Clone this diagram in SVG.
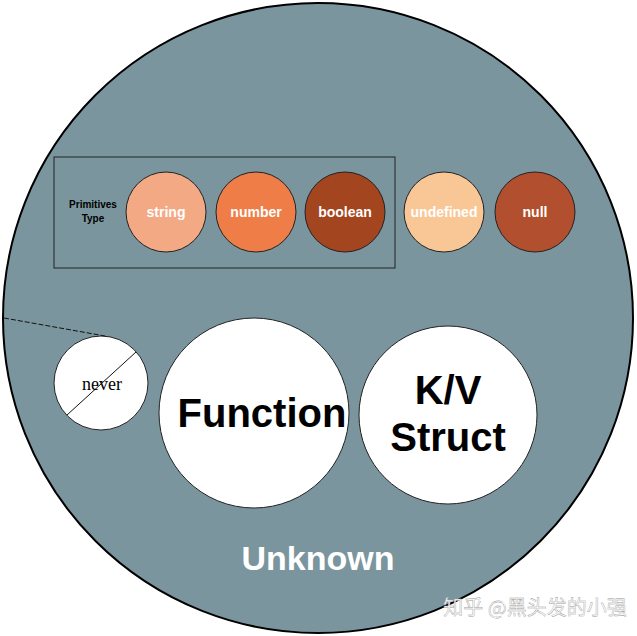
<svg xmlns="http://www.w3.org/2000/svg" width="637" height="636" viewBox="0 0 637 636">
<style>
.p{stroke:#222;stroke-width:1}
.pt{font-family:"Liberation Sans",Arial,sans-serif;font-weight:bold;font-size:14px;fill:#fff;text-anchor:middle}
.w{fill:#fff;stroke:#222;stroke-width:1}
.big{font-family:"Liberation Sans",Arial,sans-serif;font-weight:bold;font-size:40px;fill:#000;text-anchor:middle}
</style>
<rect width="637" height="636" fill="#fff"/>
<g id="unknown">
<circle cx="318" cy="318" r="315" fill="#7b959e" stroke="#000" stroke-width="2"/>
<text x="318" y="570" font-family="Liberation Sans,Arial,sans-serif" font-weight="bold" font-size="34" fill="#fff" text-anchor="middle">Unknown</text>
</g>
<g id="primitives">
<rect x="54" y="157" width="341" height="111" fill="none" stroke="#222"/>
<text x="93" y="208" font-family="Liberation Sans,Arial,sans-serif" font-weight="bold" font-size="10" text-anchor="middle">Primitives</text>
<text x="93" y="222" font-family="Liberation Sans,Arial,sans-serif" font-weight="bold" font-size="10" text-anchor="middle">Type</text>
</g>
<g id="string"><circle class="p" cx="166" cy="212" r="40" fill="#f3a984"/><text class="pt" x="166" y="217">string</text></g>
<g id="number"><circle class="p" cx="256" cy="212" r="40" fill="#ee7d48"/><text class="pt" x="256" y="217">number</text></g>
<g id="boolean"><circle class="p" cx="345" cy="212" r="40" fill="#a3451f"/><text class="pt" x="345" y="217">boolean</text></g>
<g id="undefined"><circle class="p" cx="444" cy="212" r="40" fill="#f9c796"/><text class="pt" x="444" y="217">undefined</text></g>
<g id="null"><circle class="p" cx="535" cy="212" r="40" fill="#b24f2e"/><text class="pt" x="535" y="217">null</text></g>
<g id="connectors">
<line x1="4" y1="318" x2="105" y2="336" stroke="#111" stroke-dasharray="5,2"/>
</g>
<g id="never">
<circle class="w" cx="101" cy="383" r="47"/>
<text x="102" y="390" font-family="Liberation Serif,serif" font-size="18" text-anchor="middle">never</text>
<line x1="136" y1="352" x2="67" y2="415" stroke="#111"/>
</g>
<g id="function"><circle class="w" cx="254" cy="413" r="95"/><text class="big" x="262" y="427">Function</text></g>
<g id="kv"><circle class="w" cx="448" cy="415" r="89"/><text class="big" x="448" y="404">K/V</text><text class="big" x="448" y="451">Struct</text></g>
<text x="535" y="615" font-family="Noto Sans CJK SC,sans-serif" font-size="20" fill="#fff" stroke="#999" stroke-width="0.4" text-anchor="middle">知乎 @黑头发的小强</text>
</svg>
